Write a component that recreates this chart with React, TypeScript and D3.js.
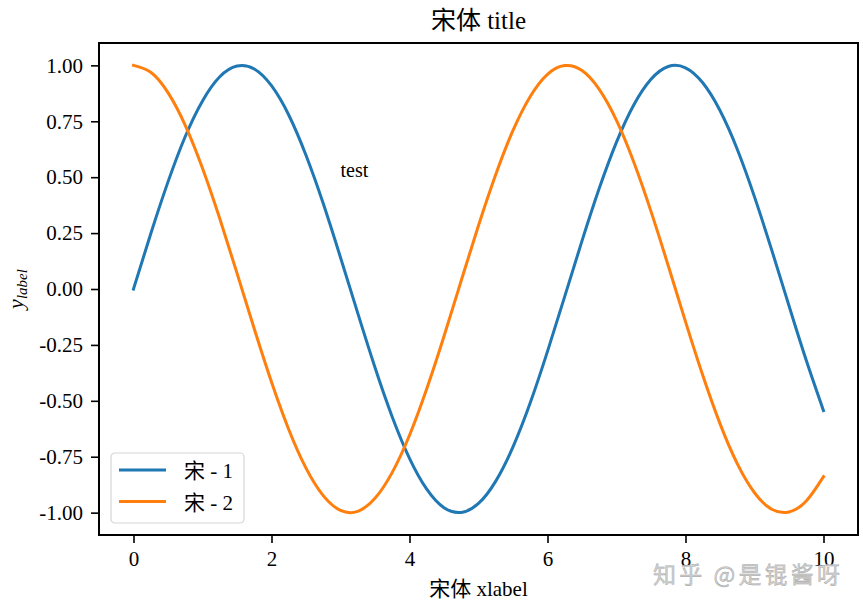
import React, { useEffect, useRef } from 'react';
import * as d3 from 'd3';

// values, x step 0.25 from 0 to 10
const xs = [
  0, 0.25, 0.5, 0.75, 1, 1.25, 1.5, 1.75, 2, 2.25, 2.5, 2.75, 3, 3.25, 3.5, 3.75, 4, 4.25, 4.5, 4.75,
  5, 5.25, 5.5, 5.75, 6, 6.25, 6.5, 6.75, 7, 7.25, 7.5, 7.75, 8, 8.25, 8.5, 8.75, 9, 9.25, 9.5, 9.75, 10
];
const series1 = [
  0, 0.247, 0.479, 0.682, 0.841, 0.949, 0.997, 0.984, 0.909, 0.778, 0.598, 0.382, 0.141, -0.108, -0.351,
  -0.572, -0.757, -0.895, -0.978, -0.999, -0.959, -0.859, -0.706, -0.509, -0.279, -0.033, 0.215, 0.45,
  0.657, 0.823, 0.938, 0.995, 0.989, 0.922, 0.798, 0.625, 0.412, 0.174, -0.075, -0.319, -0.544
];
const series2 = [
  1, 0.969, 0.878, 0.732, 0.54, 0.315, 0.071, -0.178, -0.416, -0.628, -0.801, -0.924, -0.99, -0.994,
  -0.936, -0.82, -0.654, -0.446, -0.211, 0.038, 0.284, 0.512, 0.709, 0.861, 0.96, 0.999, 0.977, 0.893,
  0.754, 0.568, 0.347, 0.104, -0.146, -0.386, -0.602, -0.781, -0.911, -0.985, -0.997, -0.948, -0.839
];
const seriesNames = ['宋 - 1', '宋 - 2'];
const xTicks = [0, 2, 4, 6, 8, 10];
const yTicks = [1, 0.75, 0.5, 0.25, 0, -0.25, -0.5, -0.75, -1];

const W = 863;
const H = 607;
const margin = { left: 99, right: 5, top: 43, bottom: 72 };
const font = '"Liberation Serif", "Times New Roman", "Noto Sans CJK SC", serif';
const colors = ['#1f77b4', '#ff7f0e'];

export default () => {
  const svgRef = useRef<SVGSVGElement>(null);

  useEffect(() => {
    if (!svgRef.current) return;
    const svg = d3.select(svgRef.current);
    svg.selectAll('*').remove();

    const x = d3.scaleLinear().domain([-0.5, 10.5]).range([margin.left, W - margin.right]);
    const y = d3.scaleLinear().domain([-1.1, 1.1]).range([H - margin.bottom, margin.top]);

    // series
    [series1, series2].forEach((vals, i) => {
      const line = d3.line<number>()
        .curve(d3.curveNatural)
        .x((_, j) => x(xs[j]))
        .y(d => y(d));
      svg.append('path')
        .datum(vals)
        .attr('d', line)
        .attr('fill', 'none')
        .attr('stroke', colors[i])
        .attr('stroke-width', 3)
        .attr('stroke-linecap', 'square');
    });

    // frame
    svg.append('rect')
      .attr('x', margin.left)
      .attr('y', margin.top)
      .attr('width', W - margin.left - margin.right)
      .attr('height', H - margin.top - margin.bottom)
      .attr('fill', 'none')
      .attr('stroke', '#000')
      .attr('stroke-width', 2);

    const xAxis = svg.append('g')
      .attr('transform', `translate(0, ${H - margin.bottom})`)
      .call(d3.axisBottom(x).tickValues(xTicks).tickFormat(d3.format('d')).tickSize(8).tickPadding(8));
    const yAxis = svg.append('g')
      .attr('transform', `translate(${margin.left}, 0)`)
      .call(d3.axisLeft(y).tickValues(yTicks).tickFormat(d3.format('.2f')).tickSize(8).tickPadding(8));
    [xAxis, yAxis].forEach(ax => {
      ax.select('.domain').remove();
      ax.selectAll('line').attr('stroke', '#000').attr('stroke-width', 1.6);
      ax.selectAll('text')
        .attr('fill', '#000')
        .style('font-family', font)
        .style('font-size', '21px');
    });
    yAxis.selectAll('text').text((d: any) => d3.format('.2f')(d).replace('−', '-'));

    // annotation
    svg.append('text')
      .attr('x', x(3))
      .attr('y', y(0.5))
      .style('font-family', font)
      .style('font-size', '20px')
      .text('test');

    // title and labels
    svg.append('text')
      .attr('x', (margin.left + W - margin.right) / 2)
      .attr('y', 29)
      .attr('text-anchor', 'middle')
      .style('font-family', font)
      .style('font-size', '25px')
      .text('宋体 title');

    svg.append('text')
      .attr('x', (margin.left + W - margin.right) / 2)
      .attr('y', 596)
      .attr('text-anchor', 'middle')
      .style('font-family', font)
      .style('font-size', '21px')
      .text('宋体 xlabel');

    const yl = svg.append('text')
      .attr('transform', `translate(23, ${(margin.top + H - margin.bottom) / 2}) rotate(-90)`)
      .attr('text-anchor', 'middle')
      .style('font-family', font)
      .style('font-style', 'italic');
    yl.append('tspan').style('font-size', '22px').text('y');
    yl.append('tspan').style('font-size', '15px').attr('dy', 4).text('label');

    // legend
    const lg = svg.append('g').attr('transform', 'translate(111, 453)');
    lg.append('rect')
      .attr('width', 133)
      .attr('height', 70)
      .attr('rx', 4)
      .attr('fill', '#fff')
      .attr('fill-opacity', 0.8)
      .attr('stroke', '#d5d5d5')
      .attr('stroke-width', 1.2);
    seriesNames.forEach((name, i) => {
      const cy = 17 + i * 31.5;
      lg.append('line')
        .attr('x1', 8).attr('x2', 55)
        .attr('y1', cy).attr('y2', cy)
        .attr('stroke', colors[i])
        .attr('stroke-width', 3);
      lg.append('text')
        .attr('x', 73)
        .attr('y', cy + 8)
        .style('font-family', font)
        .style('font-size', '21px')
        .text(name);
    });

    // watermark
    svg.append('text')
      .attr('x', 653)
      .attr('y', 583)
      .attr('textLength', 187)
      .attr('lengthAdjust', 'spacing')
      .style('font-family', '"Noto Sans CJK SC", sans-serif')
      .style('font-size', '23px')
      .attr('fill', '#d2d2d2')
      .attr('stroke', '#a0a0a0')
      .attr('stroke-width', 0.4)
      .text('知乎 @是锟酱呀');
  }, []);

  return (
    <div style={{ position: 'absolute', left: 0, top: 0, width: W, height: H, background: '#fff' }}>
      <svg ref={svgRef} width={W} height={H} />
    </div>
  );
};
